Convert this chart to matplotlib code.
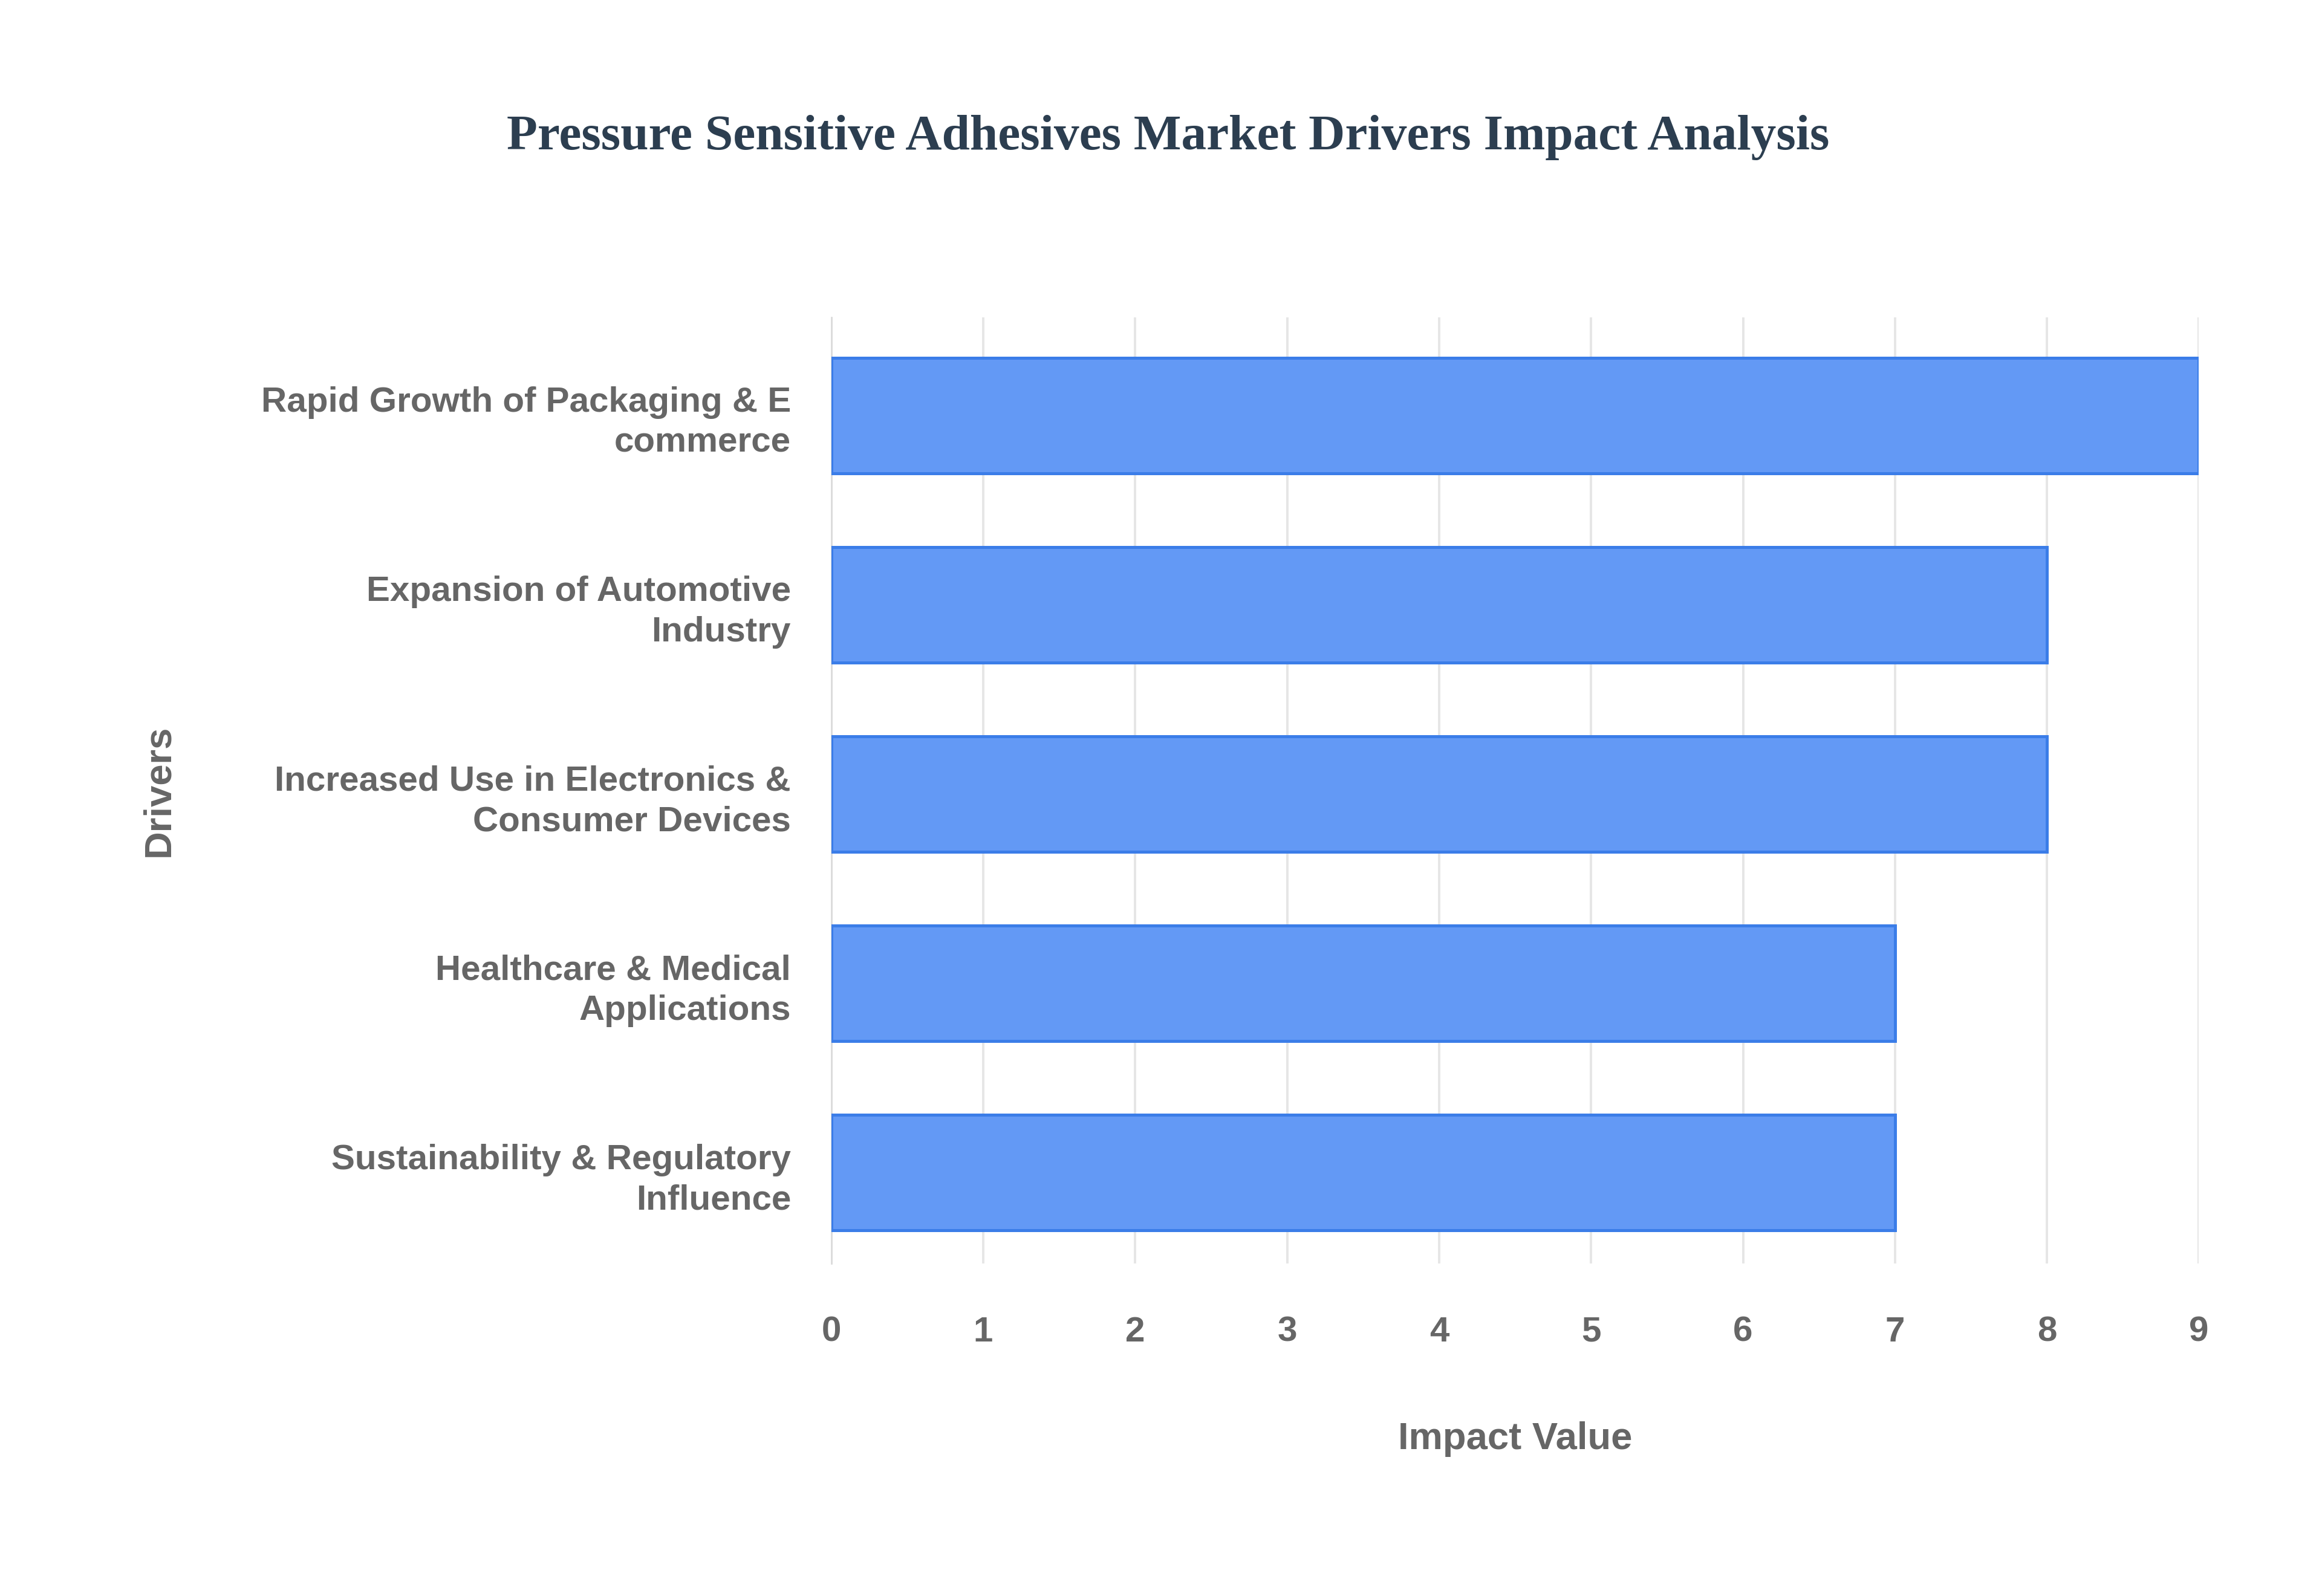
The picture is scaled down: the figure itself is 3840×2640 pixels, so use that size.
import matplotlib.pyplot as plt

drivers = [
    'Rapid Growth of Packaging & E\ncommerce',
    'Expansion of Automotive\nIndustry',
    'Increased Use in Electronics &\nConsumer Devices',
    'Healthcare & Medical\nApplications',
    'Sustainability & Regulatory\nInfluence',
]
impact = [9, 8, 8, 7, 7]

plt.rcParams['font.family'] = ['Liberation Sans', 'DejaVu Sans']

fig = plt.figure(figsize=(16, 11), dpi=240)
ax = fig.add_axes([0.358, 0.2083, 0.589, 0.593])

ypos = list(range(len(drivers)))[::-1]
ax.barh(ypos, impact, height=0.61, color='#6399f5', edgecolor='#3b7de8', linewidth=1.5, zorder=3)

ax.set_xlim(0, 9)
ax.set_ylim(-0.48, 4.52)
ax.set_xticks(range(10))
ax.set_yticks(ypos)
ax.set_yticklabels(drivers, ha='right', linespacing=1.3)
ax.grid(axis='x', color='#e6e6e6', linewidth=1.2, zorder=0)
for s in ['top', 'right', 'bottom']:
    ax.spines[s].set_visible(False)
ax.spines['left'].set_color('#d9d9d9')
ax.tick_params(axis='both', length=0, labelsize=17.5, labelcolor='#666666')
ax.tick_params(axis='x', pad=26)
ax.tick_params(axis='y', pad=20)
for lbl in ax.get_xticklabels() + ax.get_yticklabels():
    lbl.set_fontweight('bold')

ax.set_xlabel('Impact Value', fontsize=19, fontweight='bold', color='#666666', labelpad=36)
ax.set_ylabel('Drivers', fontsize=19, fontweight='bold', color='#666666', labelpad=42)

fig.text(0.503, 0.914, 'Pressure Sensitive Adhesives Market Drivers Impact Analysis',
         ha='center', va='center', fontsize=25, fontweight='bold', color='#2c3e50',
         family=['Liberation Serif', 'DejaVu Serif'])

fig.savefig('out.png', dpi=240, facecolor='white')
